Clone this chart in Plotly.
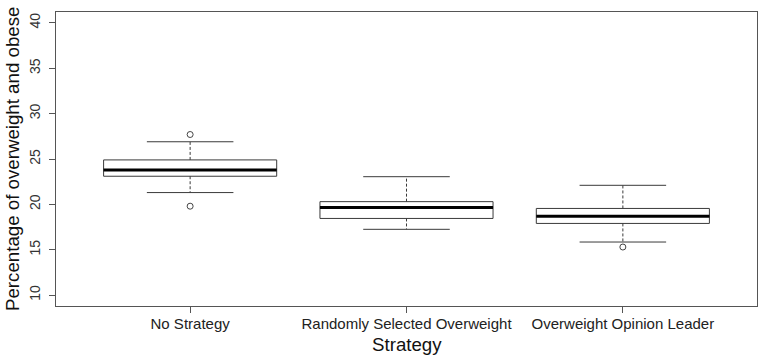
import plotly.graph_objects as go

categories = ["No Strategy", "Randomly Selected Overweight", "Overweight Opinion Leader"]
positions = [1, 2, 3]
q1 = [23.1, 18.45, 17.9]
median = [23.8, 19.65, 18.7]
q3 = [24.9, 20.3, 19.55]
lower_whisker = [21.3, 17.25, 15.85]
upper_whisker = [26.9, 23.05, 22.1]
outlier_x = [1, 1, 3]
outlier_y = [27.7, 19.8, 15.3]
y_ticks = [10, 15, 20, 25, 30, 35, 40]

BOX_W = 0.8
CAP_W = 0.4
LINE_COL = "#3a3a3a"

fig = go.Figure()

# boxes (no whiskers; fences set to quartiles)
fig.add_trace(go.Box(
    x=positions, q1=q1, median=median, q3=q3,
    lowerfence=q1, upperfence=q3,
    width=BOX_W, boxpoints=False,
    fillcolor="white", line=dict(color=LINE_COL, width=1),
    whiskerwidth=0, showlegend=False, hoverinfo="skip",
))

# dashed whiskers
wx, wy = [], []
for p, a, b, lo, hi in zip(positions, q1, q3, lower_whisker, upper_whisker):
    wx += [p, p, None, p, p, None]
    wy += [b, hi, None, a, lo, None]
fig.add_trace(go.Scatter(x=wx, y=wy, mode="lines",
                         line=dict(color=LINE_COL, width=1, dash="3px,2px"),
                         showlegend=False, hoverinfo="skip"))

# whisker caps
cx, cy = [], []
for p, lo, hi in zip(positions, lower_whisker, upper_whisker):
    cx += [p - CAP_W / 2, p + CAP_W / 2, None, p - CAP_W / 2, p + CAP_W / 2, None]
    cy += [hi, hi, None, lo, lo, None]
fig.add_trace(go.Scatter(x=cx, y=cy, mode="lines",
                         line=dict(color=LINE_COL, width=1),
                         showlegend=False, hoverinfo="skip"))

# thick medians
mx, my = [], []
for p, m in zip(positions, median):
    mx += [p - BOX_W / 2, p + BOX_W / 2, None]
    my += [m, m, None]
fig.add_trace(go.Scatter(x=mx, y=my, mode="lines",
                         line=dict(color="black", width=3),
                         showlegend=False, hoverinfo="skip"))

# outliers
fig.add_trace(go.Scatter(x=outlier_x, y=outlier_y, mode="markers",
                         marker=dict(symbol="circle-open", size=6,
                                     color="#444", line=dict(width=1)),
                         showlegend=False, hoverinfo="skip"))

fig.update_layout(
    width=764, height=360,
    margin=dict(l=56, r=7, t=12, b=54),
    paper_bgcolor="white", plot_bgcolor="white",
    font=dict(family="Liberation Sans, Arial, sans-serif", color="#222"),
    xaxis=dict(
        range=[0.38, 3.62], tickvals=positions, ticktext=categories,
        ticks="outside", ticklen=6, tickcolor="#555",
        showgrid=False, zeroline=False, automargin=False,
        showline=True, mirror=True, linecolor="#555", linewidth=1,
        tickfont=dict(size=15, color="#222"), ticklabelstandoff=-2,
    ),
    yaxis=dict(
        range=[8.8, 41.2], tickvals=y_ticks,
        ticks="outside", ticklen=6, tickcolor="#555", tickangle=-90,
        showgrid=False, zeroline=False, automargin=False,
        showline=True, mirror=True, linecolor="#555", linewidth=1,
        tickfont=dict(size=14, color="#333"), ticklabelstandoff=3,
    ),
    annotations=[
        dict(text="Strategy", xref="paper", yref="paper", x=0.5, y=0,
             xanchor="center", yanchor="middle", yshift=-38, showarrow=False,
             font=dict(size=18.7, color="#111")),
        dict(text="Percentage of overweight and obese", xref="paper", yref="paper",
             x=0, y=0.5, xanchor="center", yanchor="middle", xshift=-44,
             textangle=-90, showarrow=False,
             font=dict(size=18.7, color="#111")),
    ],
)

fig.write_html("out.html",
               config={"displayModeBar": False},
               post_script="document.body.style.margin='0';document.body.style.overflow='hidden';")
